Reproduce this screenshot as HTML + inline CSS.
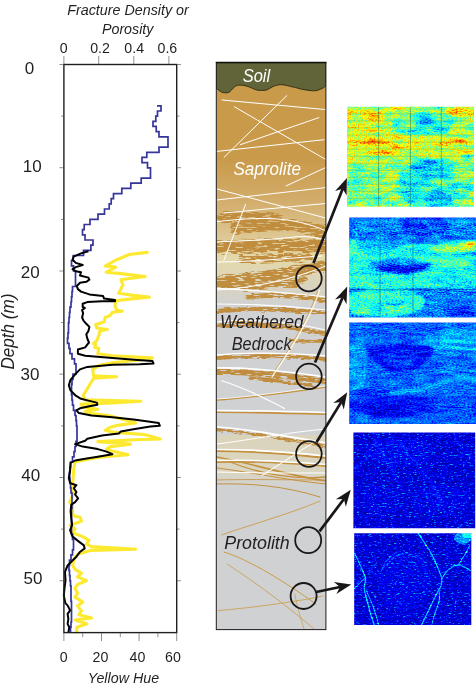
<!DOCTYPE html>
<html><head><meta charset="utf-8"><title>Fracture density, porosity and yellow hue vs depth</title>
<style>
html,body{margin:0;padding:0;background:#fff;}
svg{display:block;}
text{font-family:"Liberation Sans",sans-serif;fill:#231f20;}
.it{font-style:italic;}
</style></head><body>
<svg width="476" height="685" viewBox="0 0 476 685">
<rect width="476" height="685" fill="#fff"/>

<!-- ===== left plot ===== -->
<g id="plot">
<polyline points="147.2,252.4 129.3,254.5 116.7,259.7 105.2,266.0 115.7,267.1 106.2,272.3 118.8,273.4 145.1,276.5 131.4,278.2 120.9,279.7 123.0,284.9 118.8,293.3 133.5,295.4 149.3,297.1 133.5,298.6 115.7,300.7 115.0,305.9 116.7,310.1 122.0,311.2 112.5,312.2 110.4,315.4 105.2,317.5 104.1,321.7 95.7,324.8 96.8,328.0 107.3,329.5 99.9,331.1 98.9,335.3 96.8,340.6 93.6,343.7 95.7,344.2 94.7,347.4 98.9,348.4 97.8,353.7 112.5,355.8 152.4,357.9 139.8,360.0 112.5,362.7 99.9,365.2 92.6,369.4 93.6,375.7 116.7,376.8 93.6,378.2 91.5,382.0 89.4,385.2 86.3,390.4 83.1,395.7 85.2,399.9 140.9,401.3 112.5,403.0 81.0,404.1 83.1,407.2 97.8,409.3 85.2,411.4 91.5,413.5 108.3,415.6 129.3,420.9 135.6,423.0 118.8,425.1 110.4,427.2 105.2,430.3 114.6,432.4 144.0,434.5 160.3,439.0 135.6,439.8 97.8,441.6 130.6,444.1 110.4,446.6 106.6,449.1 114.2,451.6 128.1,454.7 110.4,456.2 97.8,457.4 75.1,461.7 73.9,468.0 73.1,478.1 72.6,485.7 73.9,492.0 72.1,497.0 69.6,502.1 72.6,505.8 72.6,513.4 73.9,515.9 80.2,517.2 81.4,521.0 75.1,523.5 70.1,525.2 75.1,529.0 72.6,532.8 82.7,536.6 89.0,540.3 86.5,544.1 91.5,546.6 135.6,549.2 90.2,550.4 77.6,554.2 73.9,559.2 72.6,565.5 75.1,569.3 81.4,573.1 77.6,576.9 86.5,580.7 77.6,584.4 75.1,588.2 77.6,593.3 75.1,597.1 82.7,602.1 77.6,605.9 81.4,610.9 78.9,614.7 91.5,618.0 75.1,620.0 86.9,623.9 76.8,627.2 76.8,632.3" fill="none" stroke="#fde92f" stroke-width="3.1" stroke-linejoin="round" stroke-linecap="round"/>
<polyline points="157.0,105.8 161.0,105.8 161.0,111.0 157.5,111.0 157.5,116.1 155.8,116.1 155.8,121.3 153.0,121.3 153.0,126.4 156.2,126.4 156.2,131.6 159.0,131.6 159.0,136.8 168.0,136.8 168.0,141.9 168.0,141.9 168.0,147.1 159.0,147.1 159.0,152.3 146.8,152.3 146.8,157.4 142.0,157.4 142.0,162.6 147.5,162.6 147.5,167.8 150.5,167.8 150.5,172.9 150.5,172.9 150.5,178.1 141.2,178.1 141.2,183.2 130.8,183.2 130.8,188.4 121.8,188.4 121.8,193.6 113.5,193.6 113.5,198.7 111.2,198.7 111.2,203.9 109.2,203.9 109.2,209.0 104.5,209.0 104.5,214.2 98.0,214.2 98.0,219.4 90.0,219.4 90.0,224.5 84.2,224.5 84.2,229.7 82.5,229.7 82.5,234.9 85.0,234.9 85.0,240.0 93.0,240.0 93.0,245.2 90.9,245.2 90.9,250.3 83.5,250.3 83.5,255.5 73.2,255.5 73.2,260.7 71.5,260.7 71.5,265.8 73.5,265.8 73.5,271.0 75.5,271.0 75.5,276.2 75.5,276.2 75.5,281.3 75.5,281.3 75.5,286.5 72.5,286.5 72.5,291.6 72.0,291.6 72.0,296.8 71.5,296.8 71.5,302.0 71.0,302.0 71.0,307.1 70.0,307.1 70.0,312.3 69.5,312.3 69.5,317.5 69.0,317.5 69.0,322.6 68.5,322.6 68.5,327.8 68.5,327.8 68.5,332.9 68.0,332.9 68.0,338.1 67.5,338.1 67.5,343.3 69.0,343.3 69.0,348.4 70.0,348.4 70.0,353.6 72.0,353.6 72.0,358.8 74.5,358.8 74.5,363.9 76.0,363.9 76.0,369.1 76.0,369.1 76.0,374.2 73.0,374.2 73.0,379.4 72.0,379.4 72.0,384.6 71.5,384.6 71.5,389.7 71.5,389.7 71.5,394.9 72.0,394.9 72.0,400.1 72.5,400.1 72.5,405.2 73.5,405.2 73.5,410.4 75.0,410.4 75.0,415.5 76.0,415.5 76.0,420.7 76.5,420.7 76.5,425.9 77.0,425.9 77.0,431.0 77.0,431.0 77.0,436.2 77.0,436.2 77.0,441.4 76.0,441.4 76.0,446.5 75.0,446.5 75.0,451.7 74.0,451.7 74.0,456.8 72.5,456.8 72.5,462.0 70.5,462.0 70.5,467.2 70.0,467.2 70.0,472.3 69.5,472.3 69.5,477.5 70.0,477.5 70.0,482.7 70.5,482.7 70.5,487.8 71.0,487.8 71.0,493.0 72.0,493.0 72.0,498.1 72.0,498.1 72.0,503.3 72.0,503.3 72.0,508.5 71.5,508.5 71.5,513.6 71.5,513.6 71.5,518.8 71.5,518.8 71.5,524.0 71.5,524.0 71.5,529.1 71.5,529.1 71.5,534.3 72.5,534.3 72.5,539.5 73.5,539.5 73.5,544.6 73.5,544.6 73.5,549.8 72.5,549.8 72.5,554.9 71.0,554.9 71.0,560.1 69.5,560.1 69.5,565.3 69.0,565.3 69.0,570.4 69.5,570.4 69.5,575.6 70.0,575.6 70.0,580.8 70.5,580.8 70.5,585.9 71.0,585.9 71.0,591.1 71.0,591.1 71.0,596.2 71.0,596.2 71.0,601.4 71.5,601.4 71.5,606.6 71.5,606.6 71.5,611.7 71.5,611.7 71.5,616.9 71.5,616.9 71.5,622.0 71.0,622.0 71.0,627.2 70.5,627.2 70.5,632.4" fill="none" stroke="#35359a" stroke-width="1.7" stroke-linejoin="miter"/>
<polyline points="88.4,251.3 81.0,253.4 73.7,256.6 72.6,259.7 75.8,262.9 82.7,265.0 75.8,267.1 72.6,269.2 75.8,271.3 81.0,272.3 80.0,275.5 88.4,277.6 89.4,279.7 86.3,281.8 80.0,282.8 76.8,286.0 77.9,289.1 81.0,291.6 89.4,294.4 103.1,296.1 104.1,298.6 115.0,300.0 115.0,301.3 102.0,301.3 87.3,302.1 82.7,303.8 82.7,307.0 84.8,308.0 82.1,310.1 83.1,313.3 82.1,317.5 83.5,320.6 86.3,323.8 89.4,326.9 88.4,331.1 86.3,334.3 87.3,338.5 89.0,342.7 88.4,343.2 85.2,347.4 77.9,349.5 77.9,353.7 85.2,355.8 112.5,357.9 137.7,360.0 152.4,361.0 153.5,363.5 139.8,364.2 112.5,364.8 87.3,366.9 80.0,369.4 75.8,373.6 70.5,379.9 68.8,385.2 70.5,390.4 75.8,395.7 81.0,398.8 89.4,400.9 96.8,402.6 97.4,404.7 89.4,406.2 80.0,408.3 76.4,410.4 78.9,413.1 91.5,415.6 112.5,417.3 133.5,419.4 148.2,421.5 158.7,423.0 159.8,425.7 150.3,426.6 133.5,429.3 120.9,431.4 118.8,433.5 102.0,435.6 87.3,438.7 85.2,440.8 75.1,444.1 82.7,446.6 97.8,449.1 106.6,451.6 112.4,454.2 97.8,456.7 85.2,458.7 75.1,460.5 70.6,463.0 70.1,470.5 68.8,478.1 70.1,483.1 76.4,485.2 73.9,488.2 76.4,492.0 75.1,494.5 78.1,498.3 75.1,502.1 71.3,504.6 70.6,510.9 71.3,518.4 72.1,525.0 70.1,530.2 72.6,536.6 78.9,541.6 83.9,545.4 84.7,548.4 80.2,551.7 76.4,556.7 71.3,561.8 67.6,565.5 65.0,571.8 65.5,580.7 64.5,588.2 63.8,595.8 65.5,603.4 67.6,605.4 70.1,610.4 67.6,613.8 68.4,618.8 67.6,623.9 69.3,627.2 68.4,632.3" fill="none" stroke="#000" stroke-width="2" stroke-linejoin="round"/>
<rect x="63.9" y="64.5" width="112.8" height="568.1" fill="none" stroke="#1f1f1f" stroke-width="1.4"/>
<g stroke="#444" stroke-width="0.6">
<!-- top ticks -->
<path d="M63.9 56V64.5M98.7 56V64.5M133.8 56V64.5M168.9 56V64.5"/>
<!-- bottom ticks -->
<path d="M63.9 632.6V641M101.5 632.6V641M139.1 632.6V641M176.7 632.6V641M82.7 632.6V637.2M120.3 632.6V637.2M157.9 632.6V637.2"/>
<!-- left ticks major -->
<path d="M59.4 64.5H63.9M59.4 167.7H63.9M59.4 271H63.9M59.4 374.2H63.9M59.4 477.5H63.9M59.4 580.7H63.9"/>
<path d="M61 116.1H63.9M61 219.4H63.9M61 322.6H63.9M61 425.9H63.9M61 529.1H63.9"/>
<!-- right ticks -->
<path d="M176.7 64.5H181M176.7 167.7H181M176.7 271H181M176.7 374.2H181M176.7 477.5H181M176.7 580.7H181"/>
<path d="M176.7 116.1H179.5M176.7 219.4H179.5M176.7 322.6H179.5M176.7 425.9H179.5M176.7 529.1H179.5"/>
</g>
<text class="it" x="128" y="15.2" font-size="14.6" text-anchor="middle" textLength="121.5" lengthAdjust="spacingAndGlyphs">Fracture Density or</text>
<text class="it" x="127.7" y="34" font-size="14.6" text-anchor="middle" textLength="51.5" lengthAdjust="spacingAndGlyphs">Porosity</text>
<g font-size="14.2" text-anchor="middle">
<text x="63.6" y="52.8">0</text><text x="100" y="52.8">0.2</text><text x="134.2" y="52.8">0.4</text><text x="167.4" y="52.8">0.6</text>
<text x="63.8" y="662.2">0</text><text x="100.4" y="662.2">20</text><text x="137.5" y="662.2">40</text><text x="173" y="662.2">60</text>
</g>
<text class="it" x="123.4" y="682.6" font-size="14.2" text-anchor="middle" textLength="71.5" lengthAdjust="spacingAndGlyphs">Yellow Hue</text>
<g font-size="17" text-anchor="middle">
<text x="29.5" y="73.8">0</text><text x="32.2" y="172.2">10</text><text x="30.2" y="278.2">20</text><text x="30" y="380">30</text><text x="30.7" y="481">40</text><text x="32.9" y="583.8">50</text>
</g>
<text class="it" transform="translate(13.9 369.6) rotate(-90)" font-size="17.6" textLength="76" lengthAdjust="spacingAndGlyphs">Depth (m)</text>
</g>

<!-- ===== stratigraphic column ===== -->
<defs>
<linearGradient id="colbg" x1="0" y1="62.6" x2="0" y2="629.6" gradientUnits="userSpaceOnUse">
<stop offset="0" stop-color="#c99a4a"/>
<stop offset="0.17" stop-color="#c99a4a"/>
<stop offset="0.245" stop-color="#d3ad6c"/>
<stop offset="0.30" stop-color="#dcc48e"/>
<stop offset="0.345" stop-color="#e4d9ab"/>
<stop offset="0.395" stop-color="#d9d3bf"/>
<stop offset="0.43" stop-color="#d0d1d3"/>
<stop offset="1" stop-color="#d0d1d3"/>
</linearGradient>
<linearGradient id="beige" x1="0" y1="435" x2="0" y2="487" gradientUnits="userSpaceOnUse">
<stop offset="0" stop-color="#dad4bc"/>
<stop offset="0.7" stop-color="#dbd6c2"/>
<stop offset="1" stop-color="#d0d1d3"/>
</linearGradient>
<clipPath id="colclip"><rect x="216.3" y="62.6" width="109.6" height="567"/></clipPath>
<filter id="rough" x="-5%" y="-30%" width="110%" height="160%" color-interpolation-filters="sRGB">
<feTurbulence type="fractalNoise" baseFrequency="0.09 0.55" numOctaves="2" seed="7" result="n"/>
<feDisplacementMap in="SourceGraphic" in2="n" scale="7" xChannelSelector="R" yChannelSelector="G" result="d"/>
<feTurbulence type="fractalNoise" baseFrequency="0.11 0.8" numOctaves="2" seed="12" result="m"/>
<feColorMatrix in="m" type="matrix" values="0 0 0 0 0  0 0 0 0 0  0 0 0 0 0  9 0 0 0 -2.85" result="mk"/>
<feComposite in="d" in2="mk" operator="in"/>
</filter>
<filter id="rough2" x="-5%" y="-30%" width="110%" height="160%" color-interpolation-filters="sRGB">
<feTurbulence type="fractalNoise" baseFrequency="0.12 0.7" numOctaves="2" seed="3" result="n"/>
<feDisplacementMap in="SourceGraphic" in2="n" scale="3.5" xChannelSelector="R" yChannelSelector="G" result="d"/>
<feTurbulence type="fractalNoise" baseFrequency="0.1 0.9" numOctaves="2" seed="21" result="m"/>
<feColorMatrix in="m" type="matrix" values="0 0 0 0 0  0 0 0 0 0  0 0 0 0 0  9 0 0 0 -2.8" result="mk"/>
<feComposite in="d" in2="mk" operator="in"/>
</filter>
</defs>
<g id="column" clip-path="url(#colclip)">
<rect x="216.3" y="62.6" width="109.6" height="567" fill="url(#colbg)"/>
<rect x="216.3" y="435" width="109.6" height="52" fill="url(#beige)"/>
<!-- soil -->
<path d="M216 62H326V85.8C324 87.5 322.5 88.5 320.9 89C318 90.5 316 90.8 313.3 90.8C309 90.6 305 90 300.7 89C297 88 294 87 290.6 86.5C287 85.5 284 84.7 280.5 84.7C278 84.8 275.5 85.5 273 86.5C270 88 268 90 265.4 90.3C263 90.5 260.5 90.5 257.9 90.3C254 89.5 251 87.5 247.8 86.5C244 85.3 241 85 237.7 85.2C234 86 232 90 229.5 92C227.5 93.3 224.5 93 222 92.3C220 91.5 218 89.5 216 88.2Z" fill="#616338" stroke="#23240f" stroke-width="0.8"/>

<!-- textured tan bands (saprolite / weathered bedrock transition) -->
<g fill="none" stroke="#c08d3e" stroke-linecap="round" filter="url(#rough)">
<path d="M221 218C240 215 262 216 278 219" stroke-width="9"/>
<path d="M236 228C268 222 300 224 323 232" stroke-width="12"/>
<path d="M221 247C255 246 290 244 323 247" stroke-width="13"/>
<path d="M242 259C265 259 285 258 308 257" stroke-width="8"/>
<path d="M221 281C255 279 295 272 323 266" stroke-width="11"/>
<path d="M243 287C265 286 285 284 304 280" stroke-width="6"/>
<path d="M218 286C240 285 270 284 298 285" stroke-width="4"/>
</g>
<g fill="none" stroke="#c08d3e" stroke-linecap="round" filter="url(#rough2)">
<path d="M247 297C270 294 300 296 325 300" stroke-width="5"/>
<path d="M217 311C250 308 290 309 326 313" stroke-width="4.5"/>
<path d="M217 326C245 322 280 324 326 334" stroke-width="4.5"/>
<path d="M290 340C305 341 315 342 326 341" stroke-width="3"/>
<path d="M217 358C250 355 290 356 326 359" stroke-width="4"/>
<path d="M217 372C250 371 290 376 326 381" stroke-width="6"/>
<path d="M250 378C270 379 290 383 312 386" stroke-width="3.5"/>
<path d="M217 429.5C250 432 290 440 326 446" stroke-width="3"/>
</g>
<g fill="none" stroke="#c4913f" stroke-linecap="round">
<path d="M217 400C250 398 290 392 326 387" stroke-width="1.6"/>
<path d="M217 412.3C250 412.3 290 413.3 326 414.3" stroke-width="1.6"/>
<path d="M217 451C250 451 290 454 326 458" stroke-width="2"/>
<path d="M217 462C250 461 290 463 326 466" stroke-width="1.8"/>
<path d="M217 457C250 463 290 476 326 481" stroke-width="1.6"/>
<path d="M230 462C260 474 295 480 326 477" stroke-width="1.3"/>
<path d="M217 468C250 472 285 480 326 484" stroke-width="1"/>
<path d="M217 484C250 483 285 486 320 497" stroke-width="1"/>
<path d="M217 480C250 479 290 480 326 480" stroke-width="0.8"/>
</g>
<!-- thin tan fractures in protolith -->
<g fill="none" stroke="#cb9c45" stroke-width="0.9" stroke-linecap="round">
<path d="M221.6 535C240 528 290 514 320 501"/>
<path d="M224 552C250 560 285 582 316 604" stroke-width="1"/>
<path d="M227 564C255 582 290 608 314 629" stroke-width="0.8"/>
<path d="M218 610.6C250 608 295 602 323 596" stroke-width="0.8"/>
<path d="M294.7 594C297 606 301 620 305 632" stroke-width="0.7"/>
<path d="M317.5 291Q309 321 270 378" stroke-width="0.8"/>
</g>

<!-- white fractures -->
<g fill="none" stroke="#fff" stroke-width="1" stroke-linecap="round">
<path d="M222 100L327 109.7"/>
<path d="M234.4 106.8L325.6 159.4"/>
<path d="M286.8 95.6L224 157.4"/>
<path d="M319 117.6L240.3 144.7"/>
<path d="M324 139.7L216 151.5"/>
<path d="M325.6 167.6L286 186"/>
<path d="M217 189L325.6 218"/>
<path d="M217 200L325.6 187.6"/>
<path d="M224 213L325.6 203.5"/>
<path d="M245.6 204.4L224 260"/>
<path d="M217 221.6C240 219 270 216 297 221.6C308 224 318 227 326 231"/>
<path d="M217 241.8C240 241 270 240 297 236.7C308 236 318 238 326 240"/>
<path d="M217 262C250 262 290 258 322 256"/>
<path d="M217 290C250 288 285 282 326 266"/>
<path d="M217 288.5C245 290 285 292 326 297" stroke-width="1.3"/>
<path d="M217 304C250 304 290 306 326 310" stroke-width="1.2"/>
<path d="M217 322C245 318 280 320 326 330" stroke-width="1.2"/>
<path d="M217 355C250 352 290 353 326 356" stroke-width="1.4"/>
<path d="M217 368C250 367 290 372 326 377" stroke-width="1.6"/>
<path d="M319.5 290Q311 320 272 377" stroke="#fff8e6" stroke-width="1.2"/>
<path d="M221.6 380.8C245 388 265 398 284.6 408.5" stroke-width="1.2"/>
<path d="M217 399C250 397 290 391 326 386" stroke-width="0.8"/>
<path d="M217 410.5C250 410.5 290 411.5 326 412.5" stroke-width="1.5"/>
<path d="M217 427C250 429 290 437 326 443" stroke-width="1.7"/>
<path d="M217 444C250 440 290 432 326 429" stroke-width="1"/>
<path d="M217 449.5C250 449.5 290 452 326 456" stroke-width="1.7"/>
<path d="M217 460.5C250 459.5 290 461.5 326 464.5" stroke-width="1.5"/>
<path d="M261.9 475.6L314.8 441.6" stroke-width="1.1"/>
<path d="M217 472C250 473 290 473 326 473" stroke-width="1"/>
</g>

<!-- column labels -->
<text class="it" x="256.4" y="82" font-size="17.8" text-anchor="middle" style="fill:#fff" textLength="27.5" lengthAdjust="spacingAndGlyphs">Soil</text>
<text class="it" x="267.2" y="175.4" font-size="17.6" text-anchor="middle" style="fill:#fff" textLength="67.5" lengthAdjust="spacingAndGlyphs">Saprolite</text>
<text class="it" x="261.8" y="327.8" font-size="17.8" text-anchor="middle" textLength="83.5" lengthAdjust="spacingAndGlyphs">Weathered</text>
<text class="it" x="261.7" y="349.6" font-size="17.8" text-anchor="middle" textLength="60" lengthAdjust="spacingAndGlyphs">Bedrock</text>
<text class="it" x="257" y="549.2" font-size="17.8" text-anchor="middle" textLength="65.5" lengthAdjust="spacingAndGlyphs">Protolith</text>
</g>
<rect x="216.3" y="62.6" width="109.6" height="567" fill="none" stroke="#1a1a1a" stroke-width="1"/>
<path d="M215.8 62.5H326.4" stroke="#111" stroke-width="1.5" fill="none"/>

<!-- ===== pseudo-colour image panels ===== -->
<defs>
<filter id="fh1" filterUnits="userSpaceOnUse" x="343" y="102.8" width="135" height="108" color-interpolation-filters="sRGB">
<feGaussianBlur in="SourceGraphic" stdDeviation="1.8" result="b"/>
<feTurbulence type="fractalNoise" baseFrequency="0.06 0.2" numOctaves="3" seed="11" result="t"/>
<feColorMatrix in="t" type="matrix" values="1 0 0 0 0  1 0 0 0 0  1 0 0 0 0  0 0 0 0 1" result="n"/>
<feComposite in="b" in2="n" operator="arithmetic" k1="0" k2="1" k3="0.4" k4="-0.200" result="v"/>
<feTurbulence type="fractalNoise" baseFrequency="0.5 0.95" numOctaves="2" seed="16" result="t2"/>
<feColorMatrix in="t2" type="matrix" values="1 0 0 0 0  1 0 0 0 0  1 0 0 0 0  0 0 0 0 1" result="n2"/>
<feComposite in="v" in2="n2" operator="arithmetic" k1="0" k2="1" k3="0.36" k4="-0.180" result="v2"/>
<feComponentTransfer><feFuncR type="table" tableValues="0 0 0 0 0.5 1 1 1 0.5"/><feFuncG type="table" tableValues="0 0 0.5 1 1 1 0.5 0 0"/><feFuncB type="table" tableValues="0.5 1 1 1 0.5 0 0 0 0"/><feFuncA type="linear" slope="0" intercept="1"/></feComponentTransfer>
<feGaussianBlur stdDeviation="0.5"/>
</filter>
<filter id="fh2" filterUnits="userSpaceOnUse" x="345.2" y="213.4" width="134.8" height="108.2" color-interpolation-filters="sRGB">
<feGaussianBlur in="SourceGraphic" stdDeviation="1.2" result="b"/>
<feTurbulence type="fractalNoise" baseFrequency="0.07 0.25" numOctaves="3" seed="23" result="t"/>
<feColorMatrix in="t" type="matrix" values="1 0 0 0 0  1 0 0 0 0  1 0 0 0 0  0 0 0 0 1" result="n"/>
<feComposite in="b" in2="n" operator="arithmetic" k1="0" k2="1" k3="0.22" k4="-0.110" result="v"/>
<feTurbulence type="fractalNoise" baseFrequency="0.5 0.95" numOctaves="2" seed="28" result="t2"/>
<feColorMatrix in="t2" type="matrix" values="1 0 0 0 0  1 0 0 0 0  1 0 0 0 0  0 0 0 0 1" result="n2"/>
<feComposite in="v" in2="n2" operator="arithmetic" k1="0" k2="1" k3="0.34" k4="-0.170" result="v2"/>
<feComponentTransfer><feFuncR type="table" tableValues="0 0 0 0 0.5 1 1 1 0.5"/><feFuncG type="table" tableValues="0 0 0.5 1 1 1 0.5 0 0"/><feFuncB type="table" tableValues="0.5 1 1 1 0.5 0 0 0 0"/><feFuncA type="linear" slope="0" intercept="1"/></feComponentTransfer>
<feGaussianBlur stdDeviation="0.5"/>
</filter>
<filter id="fh3" filterUnits="userSpaceOnUse" x="345.2" y="318.4" width="134.8" height="109.6" color-interpolation-filters="sRGB">
<feGaussianBlur in="SourceGraphic" stdDeviation="0.9" result="b"/>
<feTurbulence type="fractalNoise" baseFrequency="0.07 0.3" numOctaves="3" seed="31" result="t"/>
<feColorMatrix in="t" type="matrix" values="1 0 0 0 0  1 0 0 0 0  1 0 0 0 0  0 0 0 0 1" result="n"/>
<feComposite in="b" in2="n" operator="arithmetic" k1="0" k2="1" k3="0.18" k4="-0.090" result="v"/>
<feTurbulence type="fractalNoise" baseFrequency="0.5 0.95" numOctaves="2" seed="36" result="t2"/>
<feColorMatrix in="t2" type="matrix" values="1 0 0 0 0  1 0 0 0 0  1 0 0 0 0  0 0 0 0 1" result="n2"/>
<feComposite in="v" in2="n2" operator="arithmetic" k1="0" k2="1" k3="0.28" k4="-0.140" result="v2"/>
<feComponentTransfer><feFuncR type="table" tableValues="0 0 0 0 0.5 1 1 1 0.5"/><feFuncG type="table" tableValues="0 0 0.5 1 1 1 0.5 0 0"/><feFuncB type="table" tableValues="0.5 1 1 1 0.5 0 0 0 0"/><feFuncA type="linear" slope="0" intercept="1"/></feComponentTransfer>
<feGaussianBlur stdDeviation="0.5"/>
</filter>
<filter id="fh4" filterUnits="userSpaceOnUse" x="349.4" y="428.4" width="129.8" height="103.8" color-interpolation-filters="sRGB">
<feGaussianBlur in="SourceGraphic" stdDeviation="0.8" result="b"/>
<feTurbulence type="fractalNoise" baseFrequency="0.22 0.6" numOctaves="3" seed="47" result="t"/>
<feColorMatrix in="t" type="matrix" values="1 0 0 0 0  1 0 0 0 0  1 0 0 0 0  0 0 0 0 1" result="n"/>
<feComposite in="b" in2="n" operator="arithmetic" k1="0" k2="1" k3="0.2" k4="-0.100" result="v"/>
<feTurbulence type="fractalNoise" baseFrequency="0.35 0.9" numOctaves="2" seed="52" result="t2"/>
<feColorMatrix in="t2" type="matrix" values="3.5 0 0 0 -1.75  3.5 0 0 0 -1.75  3.5 0 0 0 -1.75  0 0 0 0 1" result="n2"/>
<feComponentTransfer in="n2" result="n3"><feFuncR type="gamma" exponent="1.5"/><feFuncG type="gamma" exponent="1.5"/><feFuncB type="gamma" exponent="1.5"/></feComponentTransfer>
<feComposite in="v" in2="n3" operator="arithmetic" k1="0" k2="1" k3="0.2" k4="0" result="v2"/>
<feComponentTransfer><feFuncR type="table" tableValues="0 0 0 0 0.5 1 1 1 0.5"/><feFuncG type="table" tableValues="0 0 0.5 1 1 1 0.5 0 0"/><feFuncB type="table" tableValues="0.5 1 1 1 0.5 0 0 0 0"/><feFuncA type="linear" slope="0" intercept="1"/></feComponentTransfer>
<feGaussianBlur stdDeviation="0.6"/>
</filter>
<filter id="fh5" filterUnits="userSpaceOnUse" x="350.2" y="529.2" width="125.1" height="99.8" color-interpolation-filters="sRGB">
<feGaussianBlur in="SourceGraphic" stdDeviation="0.75" result="b"/>
<feTurbulence type="fractalNoise" baseFrequency="0.22 0.6" numOctaves="3" seed="59" result="t"/>
<feColorMatrix in="t" type="matrix" values="1 0 0 0 0  1 0 0 0 0  1 0 0 0 0  0 0 0 0 1" result="n"/>
<feComposite in="b" in2="n" operator="arithmetic" k1="0" k2="1" k3="0.2" k4="-0.100" result="v"/>
<feTurbulence type="fractalNoise" baseFrequency="0.35 0.9" numOctaves="2" seed="64" result="t2"/>
<feColorMatrix in="t2" type="matrix" values="3.5 0 0 0 -1.75  3.5 0 0 0 -1.75  3.5 0 0 0 -1.75  0 0 0 0 1" result="n2"/>
<feComponentTransfer in="n2" result="n3"><feFuncR type="gamma" exponent="1.5"/><feFuncG type="gamma" exponent="1.5"/><feFuncB type="gamma" exponent="1.5"/></feComponentTransfer>
<feComposite in="v" in2="n3" operator="arithmetic" k1="0" k2="1" k3="0.2" k4="0" result="v2"/>
<feComponentTransfer><feFuncR type="table" tableValues="0 0 0 0 0.5 1 1 1 0.5"/><feFuncG type="table" tableValues="0 0 0.5 1 1 1 0.5 0 0"/><feFuncB type="table" tableValues="0.5 1 1 1 0.5 0 0 0 0"/><feFuncA type="linear" slope="0" intercept="1"/></feComponentTransfer>
<feGaussianBlur stdDeviation="0.6"/>
</filter>
<clipPath id="ch1"><rect x="347" y="106.8" width="127" height="100"/></clipPath>
<clipPath id="ch2"><rect x="349.2" y="217.4" width="126.8" height="100.2"/></clipPath>
<clipPath id="ch3"><rect x="349.2" y="322.4" width="126.8" height="101.6"/></clipPath>
<clipPath id="ch4"><rect x="353.4" y="432.4" width="121.8" height="95.8"/></clipPath>
<clipPath id="ch5"><rect x="354.2" y="533.2" width="117.1" height="91.8"/></clipPath>
</defs>
<g clip-path="url(#ch1)"><g filter="url(#fh1)">
<rect x="342" y="101.8" width="137" height="110" fill="#878787"/>
<rect x="347" y="107" width="58" height="30" fill="#949494"/>
<ellipse cx="360" cy="114" rx="14" ry="3" fill="#a4a4a4"/>
<ellipse cx="371" cy="122" rx="10" ry="2.5" fill="#a4a4a4"/>
<ellipse cx="356" cy="120" rx="6" ry="2" fill="#a1a1a1"/>
<ellipse cx="366" cy="130" rx="9" ry="2" fill="#9e9e9e"/>
<ellipse cx="462" cy="112" rx="15" ry="6" fill="#a1a1a1"/>
<ellipse cx="452" cy="109" rx="8" ry="2" fill="#a4a4a4"/>
<ellipse cx="468" cy="116" rx="6" ry="2" fill="#a1a1a1"/>
<ellipse cx="424" cy="124" rx="32" ry="13" fill="#6e6e6e"/>
<ellipse cx="428" cy="121" rx="9" ry="3" fill="#5e5e5e"/>
<ellipse cx="441" cy="131" rx="9" ry="3" fill="#595959"/>
<ellipse cx="412" cy="129" rx="6" ry="2" fill="#5c5c5c"/>
<ellipse cx="418" cy="116" rx="10" ry="3" fill="#666666"/>
<ellipse cx="436" cy="124" rx="6" ry="2" fill="#575757"/>
<ellipse cx="462" cy="128" rx="12" ry="6" fill="#808080"/>
<rect x="347" y="136" width="127" height="22" fill="#969696"/>
<ellipse cx="372" cy="142" rx="28" ry="3.5" fill="#aaaaaa"/>
<ellipse cx="379" cy="153" rx="14" ry="2.2" fill="#ababab"/>
<ellipse cx="352" cy="159" rx="6" ry="2" fill="#a4a4a4"/>
<ellipse cx="392" cy="146" rx="10" ry="2" fill="#aaaaaa"/>
<ellipse cx="455" cy="142" rx="11" ry="2.5" fill="#aaaaaa"/>
<ellipse cx="424" cy="141" rx="6" ry="2" fill="#a4a4a4"/>
<ellipse cx="440" cy="146" rx="8" ry="2" fill="#a1a1a1"/>
<ellipse cx="420" cy="160" rx="22" ry="4" fill="#757575"/>
<ellipse cx="376" cy="185" rx="32" ry="24" fill="#828282"/>
<ellipse cx="434" cy="184" rx="38" ry="27" fill="#6b6b6b"/>
<ellipse cx="428" cy="168" rx="18" ry="8" fill="#525252"/>
<ellipse cx="438" cy="200" rx="15" ry="7" fill="#474747"/>
<ellipse cx="418" cy="185" rx="9" ry="5" fill="#575757"/>
<ellipse cx="421" cy="196" rx="10" ry="3.5" fill="#525252"/>
<ellipse cx="446" cy="176" rx="8" ry="3" fill="#595959"/>
<ellipse cx="408" cy="176" rx="8" ry="3" fill="#5c5c5c"/>
<ellipse cx="464" cy="172" rx="11" ry="9" fill="#878787"/>
<ellipse cx="466" cy="157" rx="6" ry="2.5" fill="#575757"/>
<ellipse cx="352" cy="192" rx="8" ry="14" fill="#787878"/>
<ellipse cx="372" cy="200" rx="16" ry="5" fill="#7a7a7a"/>
</g>
<path d="M378.6 106.8V206.8 M410.4 106.8V206.8 M441.3 106.8V206.8" stroke="#1c4a3c" stroke-opacity="0.7" stroke-width="0.6" fill="none"/>
<path d="M347 113.8H474 M347 120.9H474 M347 127.9H474 M347 135.0H474 M347 142.1H474 M347 149.1H474 M347 156.2H474 M347 163.2H474 M347 170.2H474 M347 177.3H474 M347 184.3H474 M347 191.4H474 M347 198.4H474" stroke="#1c5a3c" stroke-opacity="0.38" stroke-width="0.5" fill="none"/>
</g>
<g clip-path="url(#ch2)"><g filter="url(#fh2)">
<rect x="344.2" y="212.4" width="136.8" height="110.2" fill="#3e3e3e"/>
<ellipse cx="426" cy="226" rx="24" ry="10" fill="#303030"/>
<ellipse cx="380" cy="230" rx="22" ry="9" fill="#404040"/>
<ellipse cx="462" cy="228" rx="14" ry="8" fill="#454545"/>
<path d="M353 229C356 238 359 243 364 248" fill="none" stroke="#666666" stroke-width="1.3" stroke-linecap="round"/>
<path d="M425 219C430 230 436 238 446 246" fill="none" stroke="#575757" stroke-width="1.3" stroke-linecap="round"/>
<path d="M349 251C380 249 410 252 440 249S470 246 478 247" fill="none" stroke="#636363" stroke-width="12" stroke-linecap="round"/>
<ellipse cx="375" cy="246" rx="22" ry="5" fill="#4f4f4f"/>
<rect x="349" y="255" width="127" height="22" fill="#626262"/>
<ellipse cx="358" cy="262" rx="12" ry="14" fill="#696969"/>
<ellipse cx="353" cy="247" rx="4" ry="8" fill="#787878"/>
<ellipse cx="452" cy="249" rx="24" ry="4" fill="#808080"/>
<ellipse cx="466" cy="246" rx="9" ry="3" fill="#999999"/>
<ellipse cx="471" cy="244" rx="4.5" ry="2" fill="#c2c2c2"/>
<ellipse cx="440" cy="262" rx="30" ry="6" fill="#737373"/>
<ellipse cx="400" cy="266" rx="32" ry="8" fill="#4a4a4a"/>
<path d="M371 262C385 266 415 266 431 262C422 277 383 279 371 262Z" fill="#242424"/>
<rect x="349" y="275" width="127" height="13" fill="#666666"/>
<ellipse cx="385" cy="302" rx="40" ry="15" fill="#666666"/>
<ellipse cx="372" cy="296" rx="13" ry="3" fill="#7a7a7a"/>
<ellipse cx="398" cy="309" rx="16" ry="3" fill="#7a7a7a"/>
<ellipse cx="360" cy="311" rx="10" ry="4" fill="#737373"/>
<ellipse cx="366" cy="285" rx="10" ry="3" fill="#707070"/>
<path d="M386 302C392 306 398 306 403 303" fill="none" stroke="#383838" stroke-width="2" stroke-linecap="round"/>
<ellipse cx="452" cy="305" rx="28" ry="14" fill="#404040"/>
<ellipse cx="462" cy="312" rx="14" ry="8" fill="#303030"/>
<ellipse cx="455" cy="282" rx="24" ry="7" fill="#5c5c5c"/>
</g>
<path d="M380 217.4V317.6M413 217.4V317.6M349.2 289.7H476.0" stroke="#0a2a6a" stroke-opacity="0.7" stroke-width="0.6" fill="none"/>
</g>
<g clip-path="url(#ch3)"><g filter="url(#fh3)">
<rect x="344.2" y="317.4" width="136.8" height="111.6" fill="#393939"/>
<ellipse cx="455" cy="338" rx="30" ry="9" fill="#4a4a4a"/>
<ellipse cx="400" cy="330" rx="40" ry="5" fill="#363636"/>
<path d="M430 347.5C445 346.5 460 349 478 350" fill="none" stroke="#858585" stroke-width="1.3" stroke-linecap="round"/>
<path d="M420 342C440 340 460 341 478 343" fill="none" stroke="#5c5c5c" stroke-width="1.6" stroke-linecap="round"/>
<path d="M436 353C450 353 464 355 478 356" fill="none" stroke="#545454" stroke-width="1.3" stroke-linecap="round"/>
<ellipse cx="358" cy="362" rx="10" ry="26" fill="#474747"/>
<path d="M366 348C380 343 420 343 434 348C428 364 415 372 400 372S372 364 366 348Z" fill="#212121"/>
<path d="M376 352C390 358 410 358 424 351" fill="none" stroke="#6b6b6b" stroke-width="0.7" stroke-linecap="round"/>
<path d="M382 358C394 363 406 363 418 357" fill="none" stroke="#6b6b6b" stroke-width="0.7" stroke-linecap="round"/>
<path d="M388 364C396 367 404 367 412 363" fill="none" stroke="#666666" stroke-width="0.7" stroke-linecap="round"/>
<path d="M349 386C370 392 400 398 432 386S460 378 478 380" fill="none" stroke="#4c4c4c" stroke-width="5" stroke-linecap="round"/>
<path d="M440 372C452 368 466 369 478 372" fill="none" stroke="#575757" stroke-width="1.6" stroke-linecap="round"/>
<ellipse cx="395" cy="406" rx="46" ry="11" fill="#262626"/>
<ellipse cx="385" cy="410" rx="26" ry="7" fill="#1c1c1c"/>
<ellipse cx="372" cy="393" rx="18" ry="5" fill="#2b2b2b"/>
<ellipse cx="458" cy="408" rx="22" ry="12" fill="#333333"/>
</g></g>
<g clip-path="url(#ch4)"><g filter="url(#fh4)">
<rect x="348.4" y="427.4" width="131.8" height="105.8" fill="#131313"/>
<ellipse cx="400" cy="452" rx="34" ry="14" fill="#1a1a1a"/>
<ellipse cx="440" cy="500" rx="30" ry="14" fill="#181818"/>
<ellipse cx="380" cy="500" rx="20" ry="16" fill="#171717"/>
<path d="M372 432C380 450 392 470 402 490" fill="none" stroke="#333333" stroke-width="1.2" stroke-linecap="round"/>
<path d="M452 432C458 445 466 455 476 462" fill="none" stroke="#383838" stroke-width="1.2" stroke-linecap="round"/>
<path d="M396 440C410 455 425 470 440 500" fill="none" stroke="#2b2b2b" stroke-width="1.5" stroke-linecap="round"/>
<path d="M420 470C430 480 436 490 440 505" fill="none" stroke="#2b2b2b" stroke-width="1.2" stroke-linecap="round"/>
<path d="M354 470C362 462 370 452 376 440" fill="none" stroke="#292929" stroke-width="1.2" stroke-linecap="round"/>
</g></g>
<g clip-path="url(#ch5)"><g filter="url(#fh5)">
<rect x="349.2" y="528.2" width="127.1" height="101.8" fill="#131313"/>
<ellipse cx="463" cy="538" rx="9" ry="6" fill="#424242"/>
<ellipse cx="467" cy="535" rx="5" ry="3" fill="#5c5c5c"/>
<ellipse cx="405" cy="580" rx="26" ry="30" fill="#181818"/>
<path d="M354.6 553.3C358 560 361.7 567.7 365.5 577.4C366 582 364 585 364.3 589C365 595 368 603 369.5 610S373 620 374.5 626" fill="none" stroke="#4f4f4f" stroke-width="1.4" stroke-linecap="round"/>
<path d="M365.5 577.4C362 581 358.5 583.8 354.6 588.6" fill="none" stroke="#4c4c4c" stroke-width="1.2" stroke-linecap="round"/>
<path d="M366 590C372 602 376 614 379 626" fill="none" stroke="#4c4c4c" stroke-width="1.1" stroke-linecap="round"/>
<path d="M417.9 533C422 539 429 548.5 433 557S440 572 442 579C442 584 441 587 438.8 590.2S429 609.5 421.1 626" fill="none" stroke="#4f4f4f" stroke-width="1.4" stroke-linecap="round"/>
<path d="M442 579C444 574 448.4 569.3 453 566.5S463 565 470.9 570.9" fill="none" stroke="#4c4c4c" stroke-width="1.4" stroke-linecap="round"/>
<path d="M438.8 590.2C440 595 440 600 438 605S433 618 431.7 626" fill="none" stroke="#4c4c4c" stroke-width="1.2" stroke-linecap="round"/>
<path d="M470 545C466 553 462 560 458 565" fill="none" stroke="#4c4c4c" stroke-width="1.1" stroke-linecap="round"/>
<path d="M387 566C394 550 420 550 427 566" fill="none" stroke="#2b2b2b" stroke-width="1.1" stroke-linecap="round"/>
<path d="M378 561C374 566 371 570 368 574" fill="none" stroke="#333333" stroke-width="1.1" stroke-linecap="round"/>
<path d="M381 572C384 562 390 556 397 552" fill="none" stroke="#333333" stroke-width="1.1" stroke-linecap="round"/>
</g></g>

<!-- ===== circles and arrows ===== -->
<g fill="none" stroke="#1a1718" stroke-width="1.8">
<circle cx="308.9" cy="278.5" r="12.8"/>
<circle cx="308.9" cy="376.4" r="12.8"/>
<circle cx="308.9" cy="454" r="12.8"/>
<circle cx="308.2" cy="540.2" r="13"/>
<circle cx="303.6" cy="596" r="13"/>
</g>
<g stroke="#1a1718" stroke-width="2.7" fill="#1a1718">
<path d="M313.5 263.0L342.7 188.7" fill="none"/>
<path d="M346.9 178.0L346.6 195.6L342.7 188.7L335.1 191.1Z" stroke="none"/>
<path d="M315.0 362.5L342.7 297.2" fill="none"/>
<path d="M347.2 286.6L346.5 304.2L342.7 297.2L335.0 299.4Z" stroke="none"/>
<path d="M316.5 442.2L341.2 402.1" fill="none"/>
<path d="M347.2 392.3L343.8 409.6L341.2 402.1L333.3 403.1Z" stroke="none"/>
<path d="M319.5 531.4L343.9 499.0" fill="none"/>
<path d="M350.8 489.8L345.8 506.7L343.9 499.0L335.9 499.3Z" stroke="none"/>
<path d="M316.3 592.0L340.0 587.0" fill="none"/>
<path d="M351.3 584.6L336.4 594.1L340.0 587.0L333.9 581.9Z" stroke="none"/>
</g>

</svg>
</body></html>
